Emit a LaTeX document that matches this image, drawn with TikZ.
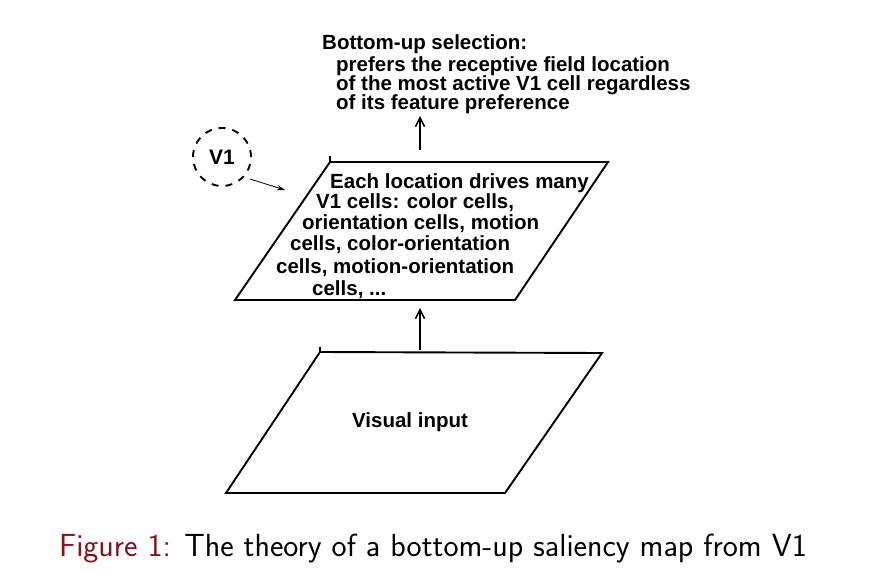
\documentclass[tikz,border=0pt]{standalone}
\usepackage{fontspec}
\setmainfont{Liberation Sans}
\newfontfamily\capfont{Latin Modern Sans}
\usetikzlibrary{arrows.meta}
\begin{document}
\begin{tikzpicture}[x=1pt,y=-1pt,
  lbl/.style={anchor=west,inner sep=0pt,font=\fontsize{20.5}{20.5}\selectfont\bfseries},
  plane/.style={draw,line width=1.9pt,line join=miter},
  up/.style={-{Straight Barb[length=9pt,width=9pt]},line width=1.5pt}]
\useasboundingbox (0,0) rectangle (873,573);
\draw[plane] (330,156)--(330,162)--(608,162)--(515,300)--(235,300)--(330,162);
\draw[plane] (320,347)--(320,352)--(602,353)--(505,493)--(226,493)--(320,352);
\node[lbl] at (322,44) {Bottom-up selection:};
\node[lbl] at (336,66) {prefers the receptive field location};
\node[lbl] at (336,85) {of the most active V1 cell regardless};
\node[lbl] at (336,104) {of its feature preference};
\node[lbl] at (330,183) {Each location drives many};
\node[lbl] at (316,203) {V1 cells: color cells,};
\node[lbl] at (302,224) {orientation cells, motion};
\node[lbl] at (290,245) {cells, color-orientation};
\node[lbl] at (276,268) {cells, motion-orientation};
\node[lbl] at (312,290) {cells, ...};
\node[lbl,anchor=center] at (410,422) {Visual input};
\coordinate (a1) at (420,150); \coordinate (a1e) at (420,116);
\draw[up] (a1)--(a1e);
\coordinate (a2) at (420,350); \coordinate (a2e) at (420,308);
\draw[up] (a2)--(a2e);
\node[draw,circle,dashed,dash pattern=on 7pt off 7pt,line width=1.9pt,minimum size=58pt,inner sep=0pt,font=\fontsize{21}{21}\selectfont\bfseries] (v1) at (222,157) {V1};
\coordinate (t) at (285,190);
\draw[-{Stealth[length=8pt,width=5pt]},line width=0.8pt] (250,179)--(t);
\node[anchor=center,font=\capfont\fontsize{32}{32}\selectfont] at (433,549) {\textcolor[RGB]{130,20,30}{Figure 1:} The theory of a bottom-up saliency map from V1};
\end{tikzpicture}
\end{document}
